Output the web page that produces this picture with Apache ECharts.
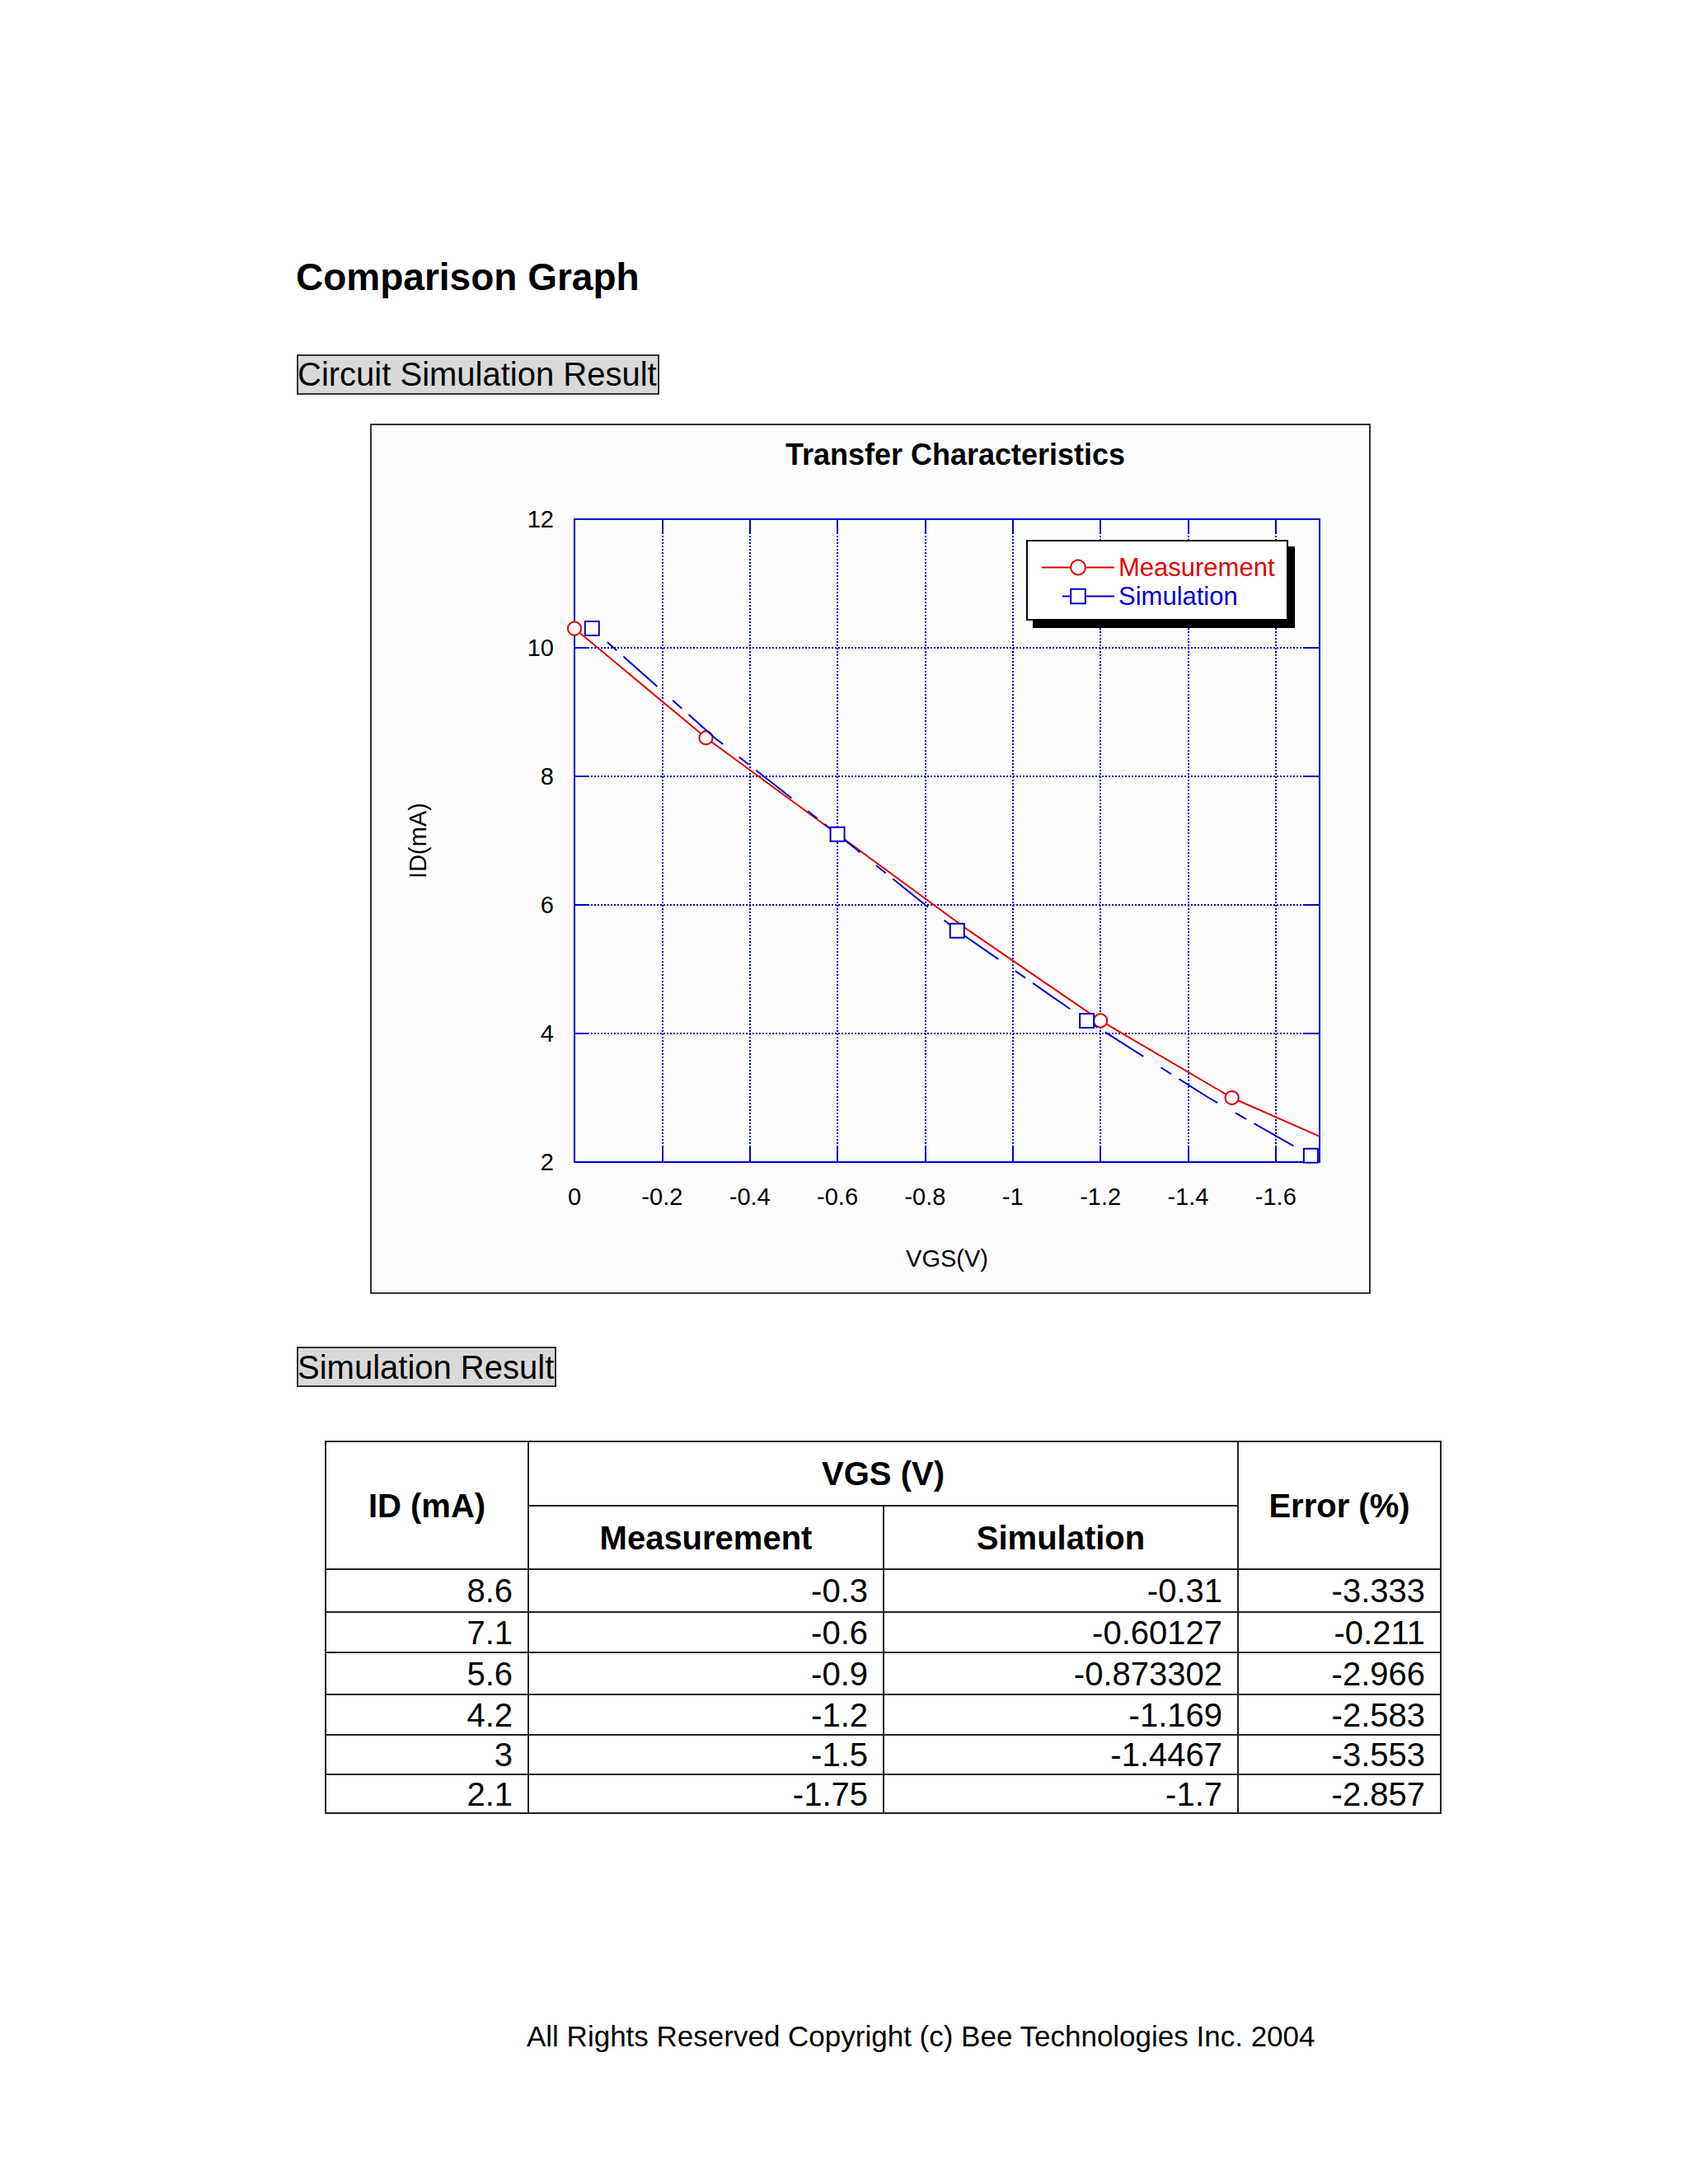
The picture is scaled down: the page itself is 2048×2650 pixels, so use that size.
<!DOCTYPE html>
<html>
<head>
<meta charset="utf-8">
<script src="https://cdn.jsdelivr.net/npm/echarts@6/dist/echarts.min.js"></script>
<style>
html,body{margin:0;padding:0;background:#fff;}
body{width:2048px;height:2650px;position:relative;font-family:"Liberation Sans",Arial,sans-serif;color:#000;overflow:hidden;}
.t{position:absolute;line-height:1;white-space:nowrap;}
.box{position:absolute;background:#d9d9d9;border:2px solid #333;box-sizing:border-box;}
#chart{position:absolute;left:449px;top:514px;width:1215px;height:1056px;}
#tbl{position:absolute;left:394px;top:1748px;border-collapse:collapse;table-layout:fixed;font-size:40px;font-family:"Liberation Sans",Arial,sans-serif;}
#tbl td,#tbl th{border:2px solid #222;padding:0 18px 0 0;text-align:right;vertical-align:middle;line-height:1;}
#tbl th{text-align:center;padding:0;font-weight:bold;}
</style>
</head>
<body>
<div class="t" style="left:359px;top:313px;font-size:46px;font-weight:bold;">Comparison Graph</div>
<div class="box" style="left:360px;top:430px;width:440px;height:49px;"></div>
<div class="t" style="left:361px;top:434px;font-size:40px;">Circuit Simulation Result</div>
<div id="chart"></div>
<div class="box" style="left:360px;top:1634px;width:315px;height:49px;"></div>
<div class="t" style="left:361px;top:1639px;font-size:40px;">Simulation Result</div>
<table id="tbl">
<colgroup><col style="width:246px"><col style="width:431px"><col style="width:430px"><col style="width:246px"></colgroup>
<thead>
<tr style="height:78px"><th rowspan="2">ID (mA)</th><th colspan="2">VGS (V)</th><th rowspan="2">Error (%)</th></tr>
<tr style="height:77px"><th>Measurement</th><th>Simulation</th></tr>
</thead>
<tbody id="tb"></tbody>
</table>
<div class="t" style="left:639px;top:2453px;font-size:35px;">All Rights Reserved Copyright (c) Bee Technologies Inc. 2004</div>
<script>
// ---- chart data ----
const measVgs = [0, -0.3, -0.6, -0.9, -1.2, -1.5, -1.7];
const measId = [10.3, 8.6, 7.1, 5.6, 4.2, 3.0, 2.4];
const measMarked = [true, true, false, false, true, true, false];
const simVgs = [-0.04, -0.32, -0.6, -0.873, -1.169, -1.447, -1.68];
const simId = [10.3, 8.6, 7.1, 5.6, 4.2, 3.0, 2.1];
const simMarked = [true, false, true, true, true, false, true];
const seriesNames = ['Measurement', 'Simulation'];

// ---- table data ----
const tblId = ['8.6', '7.1', '5.6', '4.2', '3', '2.1'];
const tblMeas = ['-0.3', '-0.6', '-0.9', '-1.2', '-1.5', '-1.75'];
const tblSim = ['-0.31', '-0.60127', '-0.873302', '-1.169', '-1.4467', '-1.7'];
const tblErr = ['-3.333', '-0.211', '-2.966', '-2.583', '-3.553', '-2.857'];
const rowHeights = [52, 49, 51, 49, 48, 47];

const tb = document.getElementById('tb');
tblId.forEach((v, i) => {
  const tr = document.createElement('tr');
  tr.style.height = rowHeights[i] + 'px';
  [v, tblMeas[i], tblSim[i], tblErr[i]].forEach(txt => {
    const td = document.createElement('td');
    td.textContent = txt;
    tr.appendChild(td);
  });
  tb.appendChild(tr);
});

const BLUE = '#0000cc';
const RED = '#e00000';
const SBLUE = '#0000d0';
const FONT = '"Liberation Sans", Arial, sans-serif';

const measData = measVgs.map((v, i) => ({value: [v, measId[i]], symbol: measMarked[i] ? 'emptyCircle' : 'none'}));
const simData = simVgs.map((v, i) => ({value: [v, simId[i]], symbol: simMarked[i] ? 'emptyRect' : 'none'}));

const axisLineStyle = {color: BLUE, width: 2};
const xBase = {type: 'value', min: -1.7, max: 0, inverse: true, minInterval: 0.2, maxInterval: 0.2};
const yBase = {type: 'value', min: 2, max: 12, interval: 2};
const tickOnly = {
  axisLine: {show: false, onZero: false},
  axisTick: {show: true, inside: true, length: 18, lineStyle: axisLineStyle},
  axisLabel: {show: false},
  splitLine: {show: false}
};

const chart = echarts.init(document.getElementById('chart'), null, {renderer: 'svg'});
chart.setOption({
  animation: false,
  backgroundColor: '#fcfcfc',
  textStyle: {fontFamily: FONT},
  title: {
    text: 'Transfer Characteristics', left: 710, top: 19, textAlign: 'center', padding: 0,
    textStyle: {fontSize: 36, fontWeight: 'bold', color: '#000', fontFamily: FONT}
  },
  grid: {left: 248, top: 116, width: 904, height: 780, containLabel: false},
  legend: {
    orient: 'vertical', left: 796, top: 141, padding: [18, 0, 0, 18],
    itemWidth: 88, itemHeight: 22, itemGap: 4, selectedMode: false, z: 12,
    textStyle: {fontSize: 31, fontFamily: FONT},
    data: [
      {name: seriesNames[0], textStyle: {color: RED}},
      {name: seriesNames[1], textStyle: {color: SBLUE}}
    ]
  },
  graphic: [
    {type: 'rect', silent: true, z: 0, shape: {x: 1, y: 1, width: 1212, height: 1054}, style: {fill: null, stroke: '#333', lineWidth: 2}},
    {type: 'rect', silent: true, z: 10, shape: {x: 804, y: 149, width: 318, height: 99}, style: {fill: '#000'}},
    {type: 'rect', silent: true, z: 11, shape: {x: 797, y: 142, width: 316, height: 96}, style: {fill: '#fff', stroke: '#000', lineWidth: 2}}
  ],
  xAxis: [Object.assign({}, xBase, {
    position: 'bottom', name: 'VGS(V)', nameLocation: 'middle', nameGap: 102,
    nameTextStyle: {fontSize: 29, color: '#000', fontFamily: FONT},
    axisLine: {show: true, onZero: false, lineStyle: axisLineStyle},
    axisTick: {show: true, inside: true, length: 18, lineStyle: axisLineStyle},
    axisLabel: {fontSize: 29, color: '#000', margin: 27, showMinLabel: false, fontFamily: FONT},
    splitLine: {show: true, lineStyle: {color: BLUE, width: 2, type: [2, 2]}}
  }), Object.assign({}, xBase, tickOnly, {
    position: 'top', axisLine: {show: true, onZero: false, lineStyle: axisLineStyle}
  })],
  yAxis: [Object.assign({}, yBase, {
    position: 'left',
    name: 'ID(mA)', nameLocation: 'middle', nameGap: 176,
    nameTextStyle: {fontSize: 29, color: '#000', fontFamily: FONT},
    axisLine: {show: true, onZero: false, lineStyle: axisLineStyle},
    axisTick: {show: true, inside: true, length: 18, lineStyle: axisLineStyle},
    axisLabel: {fontSize: 29, color: '#000', margin: 25, fontFamily: FONT},
    splitLine: {show: true, lineStyle: {color: BLUE, width: 2, type: [2, 2]}}
  }), Object.assign({}, yBase, tickOnly, {
    position: 'right', axisLine: {show: true, onZero: false, lineStyle: axisLineStyle}
  })],
  series: [{
    name: seriesNames[0], type: 'line', xAxisIndex: 0, yAxisIndex: 0,
    data: measData, symbol: 'emptyCircle', symbolSize: 16, showSymbol: true, showAllSymbol: true,
    clip: true, z: 3,
    itemStyle: {color: RED, borderWidth: 2},
    lineStyle: {color: RED, width: 2},
    emphasis: {disabled: true}
  }, {
    name: seriesNames[1], type: 'line', xAxisIndex: 0, yAxisIndex: 0,
    data: simData, symbol: 'emptyRect', symbolSize: 17, showSymbol: true, showAllSymbol: true,
    clip: true, z: 4,
    itemStyle: {color: SBLUE, borderWidth: 2},
    lineStyle: {color: SBLUE, width: 2, type: [15, 11, 55, 25], dashOffset: 81},
    emphasis: {disabled: true}
  }]
});
</script>
</body>
</html>
